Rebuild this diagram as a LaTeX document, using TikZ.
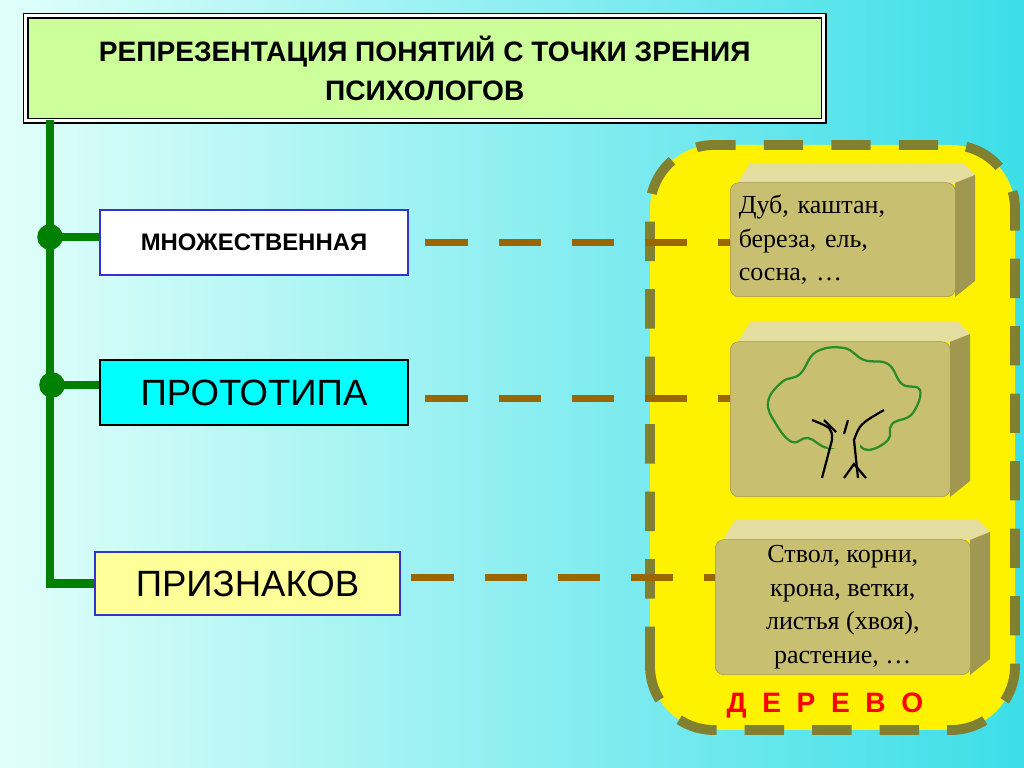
\documentclass[tikz,border=0pt]{standalone}
\usepackage{fontspec}
\setmainfont{Liberation Serif}
\setsansfont{Liberation Sans}
\usetikzlibrary{positioning,calc,shadows}
\definecolor{bgleft}{RGB}{225,255,250}
\definecolor{bgright}{RGB}{60,222,232}
\definecolor{titlefill}{RGB}{204,255,153}
\definecolor{boxblue}{RGB}{51,51,204}
\definecolor{protofill}{RGB}{0,255,255}
\definecolor{signfill}{RGB}{255,255,153}
\definecolor{branch}{RGB}{0,128,0}
\definecolor{olive}{RGB}{128,128,48}
\definecolor{dashbrown}{RGB}{153,102,0}
\definecolor{khaki}{RGB}{200,192,112}
\definecolor{khakilight}{RGB}{228,222,160}
\definecolor{khakidark}{RGB}{160,152,80}
\definecolor{crown}{RGB}{40,140,40}
\begin{document}
\begin{tikzpicture}[
    kind/.style={draw=boxblue, line width=2pt, font=\sffamily, inner sep=0pt},
    link/.style={dashbrown, line width=5pt, dash pattern=on 30pt off 22pt},
    branchline/.style={branch, line width=6pt},
    face/.style={fill=khaki, draw=khakidark, rounded corners=6pt, font=\fontsize{18.5}{24}\selectfont},
]
% background
\shade[left color=bgleft, right color=bgright] (0,0) rectangle (25.6,19.2);
\useasboundingbox (0,0) rectangle (25.6,19.2);

% title
\node[draw, line width=1pt, fill=titlefill, minimum width=19.95cm, minimum height=2.625cm,
      double=white, double distance=2pt, anchor=north west, align=center,
      font=\sffamily\bfseries\fontsize{20}{28}\selectfont] (title) at (0.625,18.825)
      {РЕПРЕЗЕНТАЦИЯ ПОНЯТИЙ С ТОЧКИ ЗРЕНИЯ\\ПСИХОЛОГОВ};

% kinds
\node[kind, fill=white, minimum width=7.7cm, minimum height=1.625cm,
      font=\sffamily\bfseries\fontsize{17}{20}\selectfont] (many) at (6.35,13.1375) {МНОЖЕСТВЕННАЯ};
\node[kind, draw=black, fill=protofill, minimum width=7.7cm, minimum height=1.625cm,
      font=\sffamily\fontsize{26}{30}\selectfont] (proto) at (6.35,9.3875) {ПРОТОТИПА};
\node[kind, fill=signfill, minimum width=7.625cm, minimum height=1.575cm,
      font=\sffamily\fontsize{26}{30}\selectfont] (sign) at (6.1875,4.6125) {ПРИЗНАКОВ};

% tree of branches
\coordinate (top) at (1.25,16.2);
\coordinate (j1) at (1.25,13.275);
\coordinate (j2) at (1.3,9.575);
\coordinate (j3) at (1.25,4.75);
\draw[branchline] (top) -- (j3 |- sign.west) -- (sign.west);
\draw[branchline] (j1) -- (j1 -| many.west);
\draw[branchline] (j2) -- (j2 -| proto.west);
\fill[branch] (j1) circle (0.32);
\fill[branch] (j2) circle (0.32);

% concept area
\draw[olive, line width=7pt, fill=yellow, rounded corners=1.6cm,
      dash pattern=on 28pt off 20pt] (16.25,0.95) rectangle (25.375,15.575);

% examples (beveled)
\foreach \n/\xa/\ya/\xb/\yb in {ex1/18.25/11.775/24.375/15.125, ex2/18.25/6.775/24.25/11.15, ex3/17.875/2.325/24.75/6.2}{
  \fill[khakilight] (\xa+0.2,\yb-0.5) -- (\xa+0.5,\yb) -- (\xb-0.3,\yb) -- (\xb,\yb-0.3) -- (\xb-0.5,\yb-0.5) -- cycle;
  \fill[khakidark] (\xb-0.5,\yb-0.5) -- (\xb,\yb-0.3) -- (\xb,\ya+0.4) -- (\xb-0.5,\ya) -- cycle;
  \coordinate (\n-sw) at (\xa,\ya);
}
\node[face, minimum width=5.625cm, minimum height=2.85cm, anchor=south west,
      text width=5.2cm, align=left] (ex1) at (ex1-sw)
      {Дуб, каштан,\\береза, ель,\\сосна, …};
\node[face, minimum width=5.5cm, minimum height=3.875cm, anchor=south west] (ex2) at (ex2-sw) {};
\node[face, minimum width=6.375cm, minimum height=3.375cm, anchor=south west, align=center] (ex3) at (ex3-sw)
      {Ствол, корни,\\крона, ветки,\\листья (хвоя),\\растение, …};

% links
\draw[link] ($(many.east)+(0.4,0)$) -- (many.east -| ex1.west);
\draw[link] ($(proto.east)+(0.4,-0.15)$) -- ($(proto.east -| ex2.west)+(0,-0.15)$);
\draw[link] ($(sign.east)+(0.25,0.15)$) -- ($(sign.east -| ex3.west)+(0,0.15)$);

% prototype tree
\draw[crown, line width=1.6pt] plot[smooth cycle, tension=0.7] coordinates {
  (19.4,8.6) (19.2,9.15) (19.55,9.65) (20.0,9.85) (20.4,10.4) (21.1,10.5)
  (21.6,10.2) (22.2,10.1) (22.55,9.6) (23.0,9.45) (22.8,8.85) (22.3,8.6)
  (22.2,8.2) (21.7,7.95) (21.3,8.15) (20.7,8.0) (20.2,8.25) (19.8,8.15)};
\fill[khaki] (20.7,8.0) rectangle (21.5,8.3);
\draw[line width=1.6pt] (20.55,7.25) -- (20.8,8.2) .. controls (20.8,8.5) .. (20.3,8.7);
\draw[line width=1.6pt] (21.45,7.25) -- (21.35,8.2) .. controls (21.5,8.6) .. (22.1,8.95);
\draw[line width=1.6pt] (20.9,8.4) -- (20.6,8.7);
\draw[line width=1.6pt] (21.1,8.35) -- (21.2,8.7);
\draw[line width=1.6pt] (21.1,7.25) -- (21.35,7.6) -- (21.65,7.25);

\node[red, font=\sffamily\bfseries\fontsize{20}{24}\selectfont] (tree) at (20.625,1.575) {Д\ \ Е\ \ Р\ \ Е\ \ В\ \ О};
\end{tikzpicture}
\end{document}
